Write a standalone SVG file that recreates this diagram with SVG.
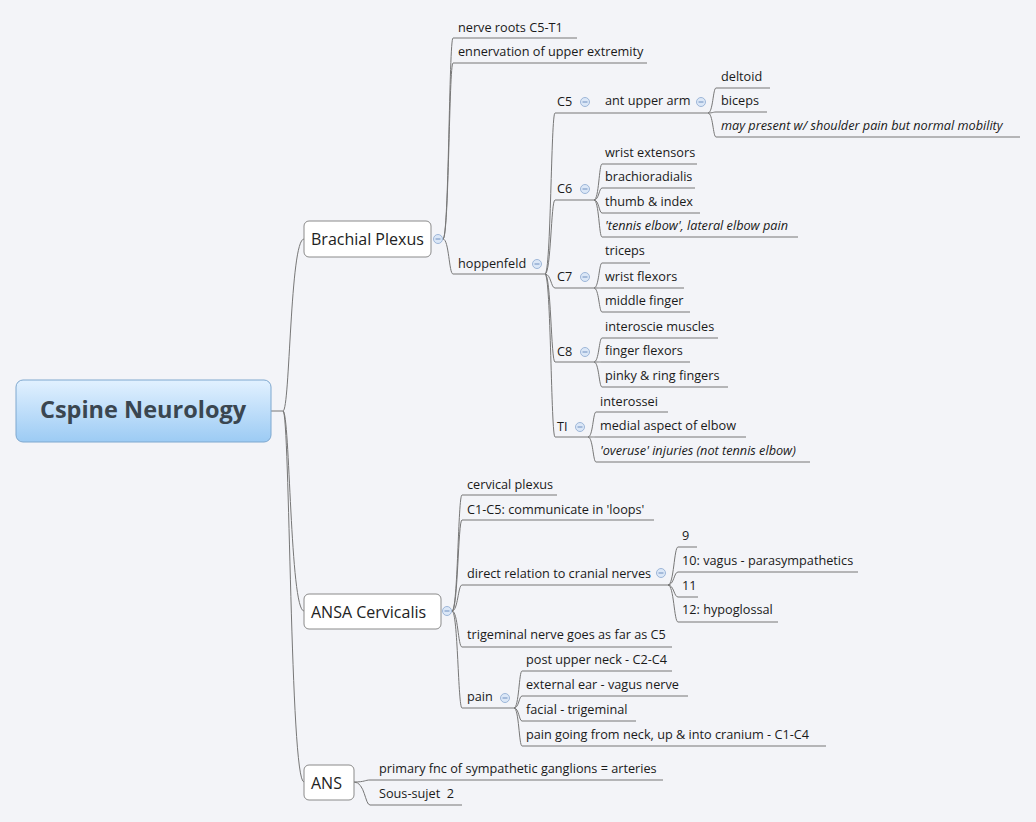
<svg xmlns="http://www.w3.org/2000/svg" width="1036" height="822" viewBox="0 0 1036 822">
<style>
.t{font-family:"Open Sans","Noto Sans",sans-serif;font-size:12.7px;fill:#1a1a1a}
.i{font-style:italic}
.b{font-family:"Open Sans","Noto Sans",sans-serif;font-size:16px;fill:#222}
.c path{fill:none;stroke:#777;stroke-width:1}
.box{fill:#fff;stroke:#8a8a8a;stroke-width:1}
.ic{fill:#dbe7f7;stroke:#9db6d8;stroke-width:1}
.icl{stroke:#6f8fbf;stroke-width:1}
</style>
<defs>
<linearGradient id="g" x1="0" y1="0" x2="0" y2="1"><stop offset="0" stop-color="#e2f1ff"/><stop offset="1" stop-color="#9ccbf4"/></linearGradient>
<g id="icon"><circle r="4.5" class="ic"/><line x1="-2.5" x2="2.5" class="icl"/></g>
</defs>
<rect width="1036" height="822" fill="#f3f4f8"/>
<g class="c">
<path d="M271 411H283C290 411 290 239 304 239"/>
<path d="M283 411C290 411 290 611 304 611"/>
<path d="M283 411C290 411 290 782 304 782"/>
<path d="M443 239C449 239 449 38 453 38H577"/>
<path d="M443 239C449 239 449 63 453 63H647"/>
<path d="M443 239C449 239 449 274 453 274H545"/>
<path d="M545 274C551 274 551 113 555 113H596"/>
<path d="M545 274C551 274 551 200 555 200H594"/>
<path d="M545 274C551 274 551 288 555 288H594"/>
<path d="M545 274C551 274 551 362 555 362H594"/>
<path d="M545 274C551 274 551 437 555 437H588"/>
<path d="M596 113H708"/>
<path d="M708 113C713 113 713 88 716 88H770"/>
<path d="M708 113C713 113 713 112 716 112H767"/>
<path d="M708 113C713 113 713 137 716 137H1020"/>
<path d="M594 200C599 200 599 164 602 164H697"/>
<path d="M594 200C599 200 599 188 602 188H695"/>
<path d="M594 200C599 200 599 213 602 213H700"/>
<path d="M594 200C599 200 599 237 602 237H798"/>
<path d="M594 288C599 288 599 263 602 263H650"/>
<path d="M594 288C599 288 599 288 602 288H684"/>
<path d="M594 288C599 288 599 312 602 312H690"/>
<path d="M594 362C599 362 599 338 602 338H718"/>
<path d="M594 362C599 362 599 362 602 362H690"/>
<path d="M594 362C599 362 599 387 602 387H728"/>
<path d="M588 437C593 437 593 412 596 412H668"/>
<path d="M588 437C593 437 593 437 596 437H746"/>
<path d="M588 437C593 437 593 462 596 462H810"/>
<path d="M452 611C458 611 458 495 462 495H557"/>
<path d="M452 611C458 611 458 520 462 520H654"/>
<path d="M452 611C458 611 458 585 462 585H668"/>
<path d="M452 611C458 611 458 647 462 647H672"/>
<path d="M452 611C458 611 458 708 462 708H514"/>
<path d="M668 585C674 585 674 547 678 547H697"/>
<path d="M668 585C674 585 674 572 678 572H858"/>
<path d="M668 585C674 585 674 597 678 597H698"/>
<path d="M668 585C674 585 674 622 678 622H778"/>
<path d="M514 708C519 708 519 671 522 671H672"/>
<path d="M514 708C519 708 519 696 522 696H688"/>
<path d="M514 708C519 708 519 721 522 721H636"/>
<path d="M514 708C519 708 519 746 522 746H826"/>
<path d="M354 782C365 782 365 780 370 780H663"/>
<path d="M354 782C365 782 365 805 370 805H462"/>
</g>
<g id="root"><rect x="16" y="380" width="255" height="62" rx="7" fill="url(#g)" stroke="#7fa8cf"/><text x="143" y="418" text-anchor="middle" style="font-family:'Open Sans','Noto Sans',sans-serif;font-size:23.5px;font-weight:bold;fill:#3a4650">Cspine Neurology</text></g>
<g id="brachial"><rect x="304" y="221" width="127" height="36" rx="5" class="box"/><text x="311" y="245" class="b">Brachial Plexus</text><use href="#icon" x="438" y="239"/></g>
<g id="ansa"><rect x="304" y="594" width="137" height="35" rx="5" class="box"/><text x="311" y="618" class="b">ANSA Cervicalis</text><use href="#icon" x="447" y="611"/></g>
<g id="ans"><rect x="304" y="765" width="50" height="35" rx="5" class="box"/><text x="311" y="789" class="b">ANS</text></g>
<g id="bp-leaves">
<text x="458" y="32" class="t">nerve roots C5-T1</text>
<text x="458" y="56" class="t">ennervation of upper extremity</text>
<g id="hoppenfeld"><text x="458" y="268" class="t">hoppenfeld</text><use href="#icon" x="537" y="264"/></g>
<g id="c5"><text x="557" y="106" class="t">C5</text><use href="#icon" x="585" y="102"/></g>
<g id="antupper"><text x="605" y="105" class="t">ant upper arm</text><use href="#icon" x="701" y="102"/></g>
<text x="721" y="81" class="t">deltoid</text>
<text x="721" y="105" class="t">biceps</text>
<text x="721" y="130" class="t i">may present w/ shoulder pain but normal mobility</text>
<g id="c6"><text x="557" y="193" class="t">C6</text><use href="#icon" x="585" y="189"/></g>
<text x="605" y="157" class="t">wrist extensors</text>
<text x="605" y="181" class="t">brachioradialis</text>
<text x="605" y="206" class="t">thumb &amp; index</text>
<text x="605" y="230" class="t i">'tennis elbow', lateral elbow pain</text>
<g id="c7"><text x="557" y="281" class="t">C7</text><use href="#icon" x="585" y="277"/></g>
<text x="605" y="255" class="t">triceps</text>
<text x="605" y="281" class="t">wrist flexors</text>
<text x="605" y="305" class="t">middle finger</text>
<g id="c8"><text x="557" y="356" class="t">C8</text><use href="#icon" x="585" y="352"/></g>
<text x="605" y="331" class="t">interoscie muscles</text>
<text x="605" y="355" class="t">finger flexors</text>
<text x="605" y="380" class="t">pinky &amp; ring fingers</text>
<g id="ti"><text x="557" y="431" class="t">TI</text><use href="#icon" x="580" y="427"/></g>
<text x="600" y="406" class="t">interossei</text>
<text x="600" y="430" class="t">medial aspect of elbow</text>
<text x="600" y="455" class="t i">'overuse' injuries (not tennis elbow)</text>
</g>
<g id="ansa-leaves">
<text x="467" y="489" class="t">cervical plexus</text>
<text x="467" y="514" class="t">C1-C5: communicate in 'loops'</text>
<g id="cranial"><text x="467" y="578" class="t">direct relation to cranial nerves</text><use href="#icon" x="661" y="573"/></g>
<text x="682" y="540" class="t">9</text>
<text x="682" y="565" class="t">10: vagus - parasympathetics</text>
<text x="682" y="590" class="t">11</text>
<text x="682" y="614" class="t">12: hypoglossal</text>
<text x="467" y="639" class="t">trigeminal nerve goes as far as C5</text>
<g id="pain"><text x="467" y="701" class="t">pain</text><use href="#icon" x="505" y="698"/></g>
<text x="526" y="664" class="t">post upper neck - C2-C4</text>
<text x="526" y="689" class="t">external ear - vagus nerve</text>
<text x="526" y="714" class="t">facial - trigeminal</text>
<text x="526" y="739" class="t">pain going from neck, up &amp; into cranium - C1-C4</text>
</g>
<g id="ans-leaves">
<text x="379" y="773" class="t">primary fnc of sympathetic ganglions = arteries</text>
<text x="379" y="798" class="t">Sous-sujet&#160; 2</text>
</g>
</svg>
